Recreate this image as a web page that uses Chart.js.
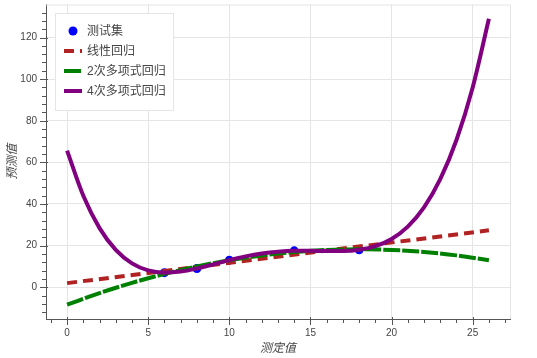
<!DOCTYPE html>
<html>
<head>
<meta charset="utf-8">
<script src="https://cdn.jsdelivr.net/npm/chart.js@4/dist/chart.umd.min.js"></script>
<style>
html,body{margin:0;padding:0;background:#fff;}
#wrap{width:537px;height:358px;}
</style>
</head>
<body>
<div id="wrap"><canvas id="c" width="537" height="358"></canvas></div>
<script>
// ---- data ----
const seriesLabels = ['测试集', '线性回归', '2次多项式回归', '4次多项式回归'];
const testX = [6, 8, 10, 14, 18];
const testY = [7, 9, 13, 17.5, 18];
const linX = [0, 26];
const linY = [1.97, 27.35];
const quadX = [0, 2, 4, 6, 8, 10, 12, 14, 16, 18, 20, 22, 24, 26];
const quadY = [-8.40, -2.81, 2.11, 6.39, 10.00, 12.96, 15.26, 16.91, 17.90, 18.24, 17.92, 16.94, 15.30, 13.01];
const quartX = [0, 1, 2, 3, 4, 5, 6, 7, 8, 9, 10, 11, 12, 13, 14, 15, 16, 17, 18, 19, 20, 21, 22, 23, 24, 25, 26];
const quartY = [65.63, 43.93, 28.40, 17.91, 11.44, 8.07, 7.00, 7.51, 9.00, 10.96, 13.00, 14.81, 16.21, 17.10, 17.50, 17.52, 17.38, 17.39, 18.00, 19.72, 23.19, 29.14, 38.40, 51.92, 70.75, 96.02, 129.00];
const xTicks = [0, 5, 10, 15, 20, 25];
const yTicks = [0, 20, 40, 60, 80, 100, 120];
const xTitle = '测定值';
const yTitle = '预测值';

const pts = (xs, ys) => xs.map((x, i) => ({x: x, y: ys[i]}));

const FONT = '"Liberation Sans", Arial, "Noto Sans CJK SC", sans-serif';
const CJK = '"Noto Sans CJK SC", "Liberation Sans", sans-serif';
const GRID = '#e5e5e5';
const AXIS = '#555';

const frameAndTicks = {
  id: 'frameAndTicks',
  beforeDatasetsDraw(chart) {
    const {ctx, chartArea: a} = chart;
    ctx.save();
    ctx.strokeStyle = GRID;
    ctx.lineWidth = 1;
    ctx.beginPath();
    ctx.moveTo(a.left, a.top + 0.5); ctx.lineTo(a.right + 0.5, a.top + 0.5);
    ctx.lineTo(a.right + 0.5, a.bottom);
    ctx.stroke();
    ctx.restore();
  },
  afterDraw(chart) {
    const {ctx, chartArea: a} = chart;
    const xs = chart.scales.x, ys = chart.scales.y;
    ctx.save();
    ctx.strokeStyle = AXIS;
    ctx.lineWidth = 1;
    ctx.beginPath();
    const by = Math.round(a.bottom);
    for (let v = Math.ceil(xs.min); v <= xs.max; v++) {
      const px = Math.round(xs.getPixelForValue(v)) + 0.5;
      const major = v % 5 === 0;
      ctx.moveTo(px, by - (major ? 2 : 0));
      ctx.lineTo(px, by + (major ? 6 : 4));
    }
    const lx = Math.round(a.left);
    for (let v = Math.ceil(ys.min / 4) * 4; v <= ys.max; v += 4) {
      const py = Math.round(ys.getPixelForValue(v)) + 0.5;
      const major = v % 20 === 0;
      ctx.moveTo(lx + (major ? 2 : 0), py);
      ctx.lineTo(lx - (major ? 6 : 4), py);
    }
    ctx.stroke();
    ctx.restore();
  }
};

const boxLegend = {
  id: 'boxLegend',
  afterDatasetsDraw(chart) {
    const {ctx} = chart;
    const ds = chart.data.datasets;
    const bx = 55.5, by = 13.5, bw = 118, bh = 97;
    ctx.save();
    ctx.fillStyle = 'rgba(255,255,255,0.95)';
    ctx.fillRect(bx, by, bw, bh);
    ctx.strokeStyle = GRID;
    ctx.lineWidth = 1;
    ctx.strokeRect(bx, by, bw, bh);
    ctx.font = '12px ' + FONT;
    ctx.textBaseline = 'middle';
    ctx.textAlign = 'left';
    ds.forEach((d, i) => {
      const cy = 31 + i * 20;
      if (i === 0) {
        ctx.fillStyle = d.backgroundColor;
        ctx.beginPath();
        ctx.arc(73, cy, 4.5, 0, Math.PI * 2);
        ctx.fill();
      } else {
        ctx.strokeStyle = d.borderColor;
        ctx.lineWidth = d.borderWidth;
        ctx.setLineDash(d.borderDash || []);
        ctx.beginPath();
        ctx.moveTo(64, cy);
        ctx.lineTo(82, cy);
        ctx.stroke();
        ctx.setLineDash([]);
      }
      ctx.fillStyle = '#444';
      ctx.fillText(d.label, 87, cy + 1);
    });
    ctx.restore();
  }
};

new Chart(document.getElementById('c'), {
  type: 'line',
  data: {
    datasets: [
      {
        label: seriesLabels[0], data: pts(testX, testY), showLine: false,
        pointRadius: 4.5, pointHoverRadius: 4.5, pointBackgroundColor: '#0000ff', pointBorderWidth: 0,
        backgroundColor: '#0000ff', borderColor: '#0000ff', order: 3
      },
      {
        label: seriesLabels[1], data: pts(linX, linY), borderColor: '#b22222', borderWidth: 4,
        borderDash: [10, 6], pointRadius: 0, fill: false, order: 2
      },
      {
        label: seriesLabels[2], data: pts(quadX, quadY), borderColor: '#008000', borderWidth: 4,
        borderDash: [17, 2], pointRadius: 0, fill: false, cubicInterpolationMode: 'monotone', order: 1
      },
      {
        label: seriesLabels[3], data: pts(quartX, quartY), borderColor: '#800080', borderWidth: 4,
        pointRadius: 0, fill: false, cubicInterpolationMode: 'monotone', order: 0
      }
    ]
  },
  options: {
    responsive: false,
    animation: false,
    devicePixelRatio: 1,
    layout: {padding: {top: 4, right: 27, left: 0, bottom: 0}},
    plugins: {legend: {display: false}, tooltip: {enabled: false}},
    scales: {
      x: {
        type: 'linear', min: -1.3, max: 27.3,
        afterBuildTicks: s => { s.ticks = xTicks.map(v => ({value: v})); },
        afterFit: s => { s.height = 39; s.paddingLeft = 0; s.paddingRight = 0; },
        grid: {color: GRID, drawTicks: false},
        border: {color: AXIS, width: 1},
        ticks: {padding: 8, color: '#444', font: {size: 10, family: FONT}, maxRotation: 0, callback: v => String(v)},
        title: {display: true, text: xTitle, color: '#444', font: {size: 12, style: 'italic', family: CJK}, padding: {top: 0, bottom: 3}}
      },
      y: {
        type: 'linear', min: -15.27, max: 135.87,
        afterBuildTicks: s => { s.ticks = yTicks.map(v => ({value: v})); },
        afterFit: s => { s.width = 46; s.paddingTop = 0; s.paddingBottom = 0; },
        grid: {color: GRID, drawTicks: false},
        border: {color: AXIS, width: 1},
        ticks: {padding: 9, color: '#444', font: {size: 10, family: FONT}, callback: v => String(v)},
        title: {display: true, text: yTitle, color: '#444', font: {size: 12, style: 'italic', family: CJK}, padding: {top: 4, bottom: 0}}
      }
    }
  },
  plugins: [frameAndTicks, boxLegend]
});
</script>
</body>
</html>
